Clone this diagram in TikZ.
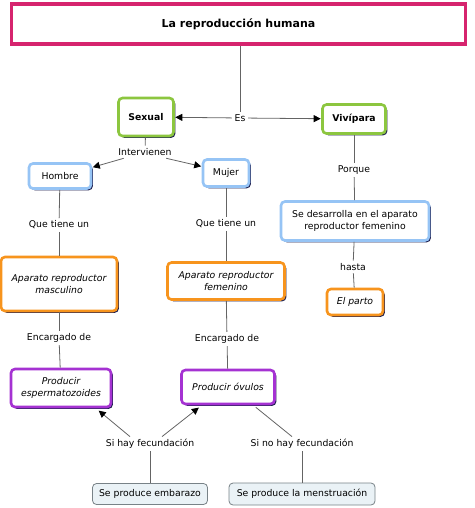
\documentclass[tikz,border=0pt]{standalone}
\usepackage{fontspec}
\setmainfont{DejaVu Sans}
\usetikzlibrary{positioning, shadows, arrows.meta}

\definecolor{titlepink}{RGB}{214,36,110}
\definecolor{conceptgreen}{RGB}{140,198,63}
\definecolor{conceptblue}{RGB}{150,196,245}
\definecolor{conceptorange}{RGB}{247,148,29}
\definecolor{conceptpurple}{RGB}{165,50,210}
\definecolor{shadownavy}{RGB}{30,32,80}
\definecolor{linkgray}{RGB}{100,100,100}
\definecolor{leafgray}{RGB}{120,130,135}
\definecolor{leaffill}{RGB}{234,242,246}

\tikzset{
  concept/.style={draw, rounded corners=4pt, line width=2.6pt, fill=white, align=center,
    font=\fontsize{9.3}{11.5}\selectfont, inner sep=2pt,
    drop shadow={shadow xshift=1.8pt, shadow yshift=-1.8pt, fill=shadownavy, opacity=1}},
  greenbox/.style={concept, draw=conceptgreen, font=\fontsize{9.3}{11.5}\selectfont\bfseries},
  bluebox/.style={concept, draw=conceptblue},
  orangebox/.style={concept, draw=conceptorange, font=\fontsize{9.3}{11.5}\selectfont\itshape},
  purplebox/.style={concept, draw=conceptpurple, font=\fontsize{9.3}{11.5}\selectfont\itshape},
  leafbox/.style={draw=leafgray, fill=leaffill, rounded corners=4pt, line width=0.8pt,
    font=\fontsize{9.3}{11.5}\selectfont, inner sep=2pt},
  linkword/.style={font=\fontsize{9.3}{11.5}\selectfont, inner sep=2.5pt},
  link/.style={draw=linkgray, line width=0.8pt},
  linkarrow/.style={link, -{Triangle[length=7pt,width=7pt,color=black]}, shorten >=0.5pt}
}

\begin{document}
\begin{tikzpicture}[x=1pt, y=-1pt]
	\useasboundingbox (0,0) rectangle (474,508);
	\node[draw=titlepink, line width=3.8pt, fill=white, minimum width=454pt, minimum height=40pt,
	  font=\fontsize{11}{13}\selectfont\bfseries] (title) at (238.5,24) {La reproducción humana};

	\node[greenbox, minimum width=55pt, minimum height=38pt] (sexual) at (146,117) {Sexual};
	\node[greenbox, minimum width=63pt, minimum height=29pt] (vivipara) at (354,119) {Vivípara};
	\node[bluebox, minimum width=62pt, minimum height=25pt] (hombre) at (60,176) {Hombre};
	\node[bluebox, minimum width=46pt, minimum height=27pt] (mujer) at (226,173) {Mujer};
	\node[bluebox, minimum width=148pt, minimum height=39pt] (desarrolla) at (355,221) {Se desarrolla en el aparato\\reproductor femenino};
	\node[orangebox, minimum width=56pt, minimum height=26pt] (parto) at (355,302) {El parto};
	\node[orangebox, minimum width=116pt, minimum height=54pt] (masculino) at (59,284) {Aparato reproductor\\masculino};
	\node[orangebox, minimum width=117pt, minimum height=37pt] (femenino) at (226,281) {Aparato reproductor\\femenino};
	\node[purplebox, minimum width=100pt, minimum height=38pt] (esperma) at (61,388) {Producir\\espermatozoides};
	\node[purplebox, minimum width=93pt, minimum height=34pt] (ovulos) at (228,387) {Producir óvulos};
	\node[leafbox, minimum width=115pt, minimum height=21pt] (embarazo) at (150,494) {Se produce embarazo};
	\node[leafbox, minimum width=146pt, minimum height=22pt] (menstruacion) at (302,494) {Se produce la menstruación};

	\node[linkword] (es) at (240,118) {Es};
	\node[linkword] (intervienen) at (145,152) {Intervienen};
	\node[linkword] (porque) at (354,170) {Porque};
	\node[linkword] (hasta) at (353,267) {hasta};
	\node[linkword] (quetiene1) at (59,225) {Que tiene un};
	\node[linkword] (quetiene2) at (226,224) {Que tiene un};
	\node[linkword] (encargado1) at (59,338) {Encargado de};
	\node[linkword] (encargado2) at (227,339) {Encargado de};
	\node[linkword] (sihay) at (150,444) {Si hay fecundación};
	\node[linkword] (sinohay) at (302,444) {Si no hay fecundación};

	\draw[link] (es |- title.south) -- (es);
	\draw[linkarrow] (es) -- (sexual);
	\draw[linkarrow] (es) -- (vivipara);
	\draw[link] (sexual) -- (intervienen);
	\draw[linkarrow] ([xshift=8pt]intervienen.south west) -- (hombre.15);
	\draw[linkarrow] ([xshift=-8pt]intervienen.south east) -- (mujer.165);
	\draw[link] (vivipara) -- (porque);
	\draw[link] (porque) -- (desarrolla);
	\draw[link] (desarrolla) -- (hasta);
	\draw[link] (hasta) -- (parto);
	\draw[link] (hombre) -- (quetiene1);
	\draw[link] (quetiene1) -- (masculino);
	\draw[link] (masculino) -- (encargado1);
	\draw[link] (encargado1) -- (esperma);
	\draw[link] (mujer) -- (quetiene2);
	\draw[link] (quetiene2) -- (femenino);
	\draw[link] (femenino) -- (encargado2);
	\draw[link] (encargado2) -- (ovulos);
	\draw[linkarrow] ([xshift=-20pt]sihay.north) -- ([xshift=-14pt,yshift=-2pt]esperma.south east);
	\draw[linkarrow] ([xshift=12pt]sihay.north) -- ([xshift=19pt,yshift=-2pt]ovulos.south west);
	\draw[link] (sihay) -- (embarazo);
	\draw[link] ([xshift=-20pt,yshift=-2pt]ovulos.south east) -- ([xshift=-10pt]sinohay.north);
	\draw[link] (sinohay) -- (menstruacion);
\end{tikzpicture}
\end{document}
